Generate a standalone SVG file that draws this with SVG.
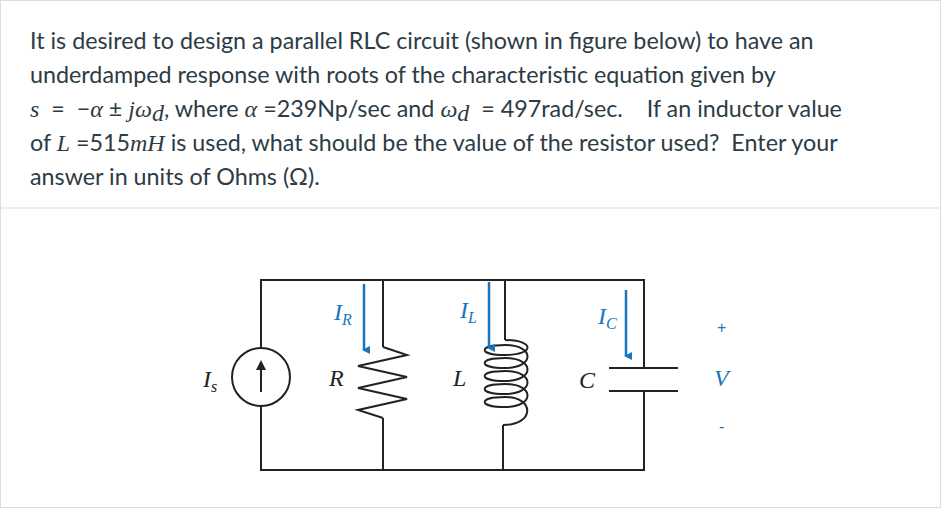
<svg xmlns="http://www.w3.org/2000/svg" width="941" height="508" viewBox="0 0 941 508">
<style>
.t{font-family:Lato,"Liberation Sans",sans-serif;font-size:23.3px;fill:#2d3b45}
.m{font-family:"Liberation Serif",serif;font-style:italic;font-size:24px;fill:#2d3b45}
.w{fill:none;stroke:#222;stroke-width:2}
.b{stroke:#1a75bc;stroke-width:2.5}
.bl{fill:#1a75bc}
.c{font-family:"Liberation Serif",serif;font-style:italic;font-size:24px}
</style>
<defs><marker id="a" markerWidth="8" markerHeight="8" refX="4" refY="6" orient="auto" markerUnits="userSpaceOnUse"><path d="M0,0 L8,0 L4,8z" fill="#1a75bc"/></marker></defs>
<rect x="0.5" y="0.5" width="940" height="507" fill="#fff" stroke="#ddd"/>
<line x1="0" y1="208" x2="941" y2="208" stroke="#ddd"/>
<text class="t" x="30" y="49">It is desired to design a parallel RLC circuit (shown in figure below) to have an</text>
<text class="t" x="30" y="83">underdamped response with roots of the characteristic equation given by</text>
<text class="t" x="30" y="117"><tspan class="m">s</tspan>&#160;&#160;=&#160;&#160;−<tspan class="m">α</tspan>&#160;±&#160;<tspan class="m">jω</tspan><tspan class="m" font-size="16" dy="4">d</tspan><tspan dy="-4">, where </tspan><tspan class="m">α</tspan> =239Np/sec and <tspan class="m">ω</tspan><tspan class="m" font-size="16" dy="4">d</tspan><tspan dy="-4">&#160;&#160;=&#160;497rad/sec.&#160;&#160;&#160;&#160;If an inductor value</tspan></text>
<text class="t" x="30" y="151">of <tspan class="m">L</tspan> =515<tspan class="m">mH</tspan> is used, what should be the value of the resistor used?&#160;&#160;Enter your</text>
<text class="t" x="30" y="185">answer in units of Ohms (Ω).</text>
<g id="wires" class="w">
<polyline points="261,348 261,280 644,280 644,368"/>
<polyline points="261,406 261,470 644,470 644,391"/>
<line x1="383" y1="280" x2="383" y2="347"/>
<line x1="383" y1="418" x2="383" y2="470"/>
<line x1="505" y1="280" x2="505" y2="340"/>
<line x1="503" y1="425" x2="503" y2="470"/>
</g>
<g id="source">
<circle cx="261" cy="377" r="29" class="w"/>
<line x1="261" y1="392" x2="261" y2="366" stroke="#222" stroke-width="2"/>
<path d="M256,370 L261,360 L266,370z" fill="#222"/>
<text class="c" x="203" y="387" fill="#222">I<tspan font-size="16" dy="5">s</tspan></text>
</g>
<g id="resistor">
<polyline class="w" points="383,347 407,355 358,366 407,377 358,388 407,399 358,410 383,418"/>
<text class="c" x="329" y="386" fill="#222">R</text>
</g>
<g id="inductor">
<path class="w" d="M505,340 C535,340 535,355 505,355 C478,355 478,345 505,345 C535,345 535,368 505,368 C478,368 478,358 505,358 C535,358 535,381 505,381 C478,381 478,371 505,371 C535,371 535,394 505,394 C478,394 478,384 505,384 C535,384 535,407 505,407 C478,407 478,397 505,397 C535,397 535,425 503,425"/>
<text class="c" x="453" y="386" fill="#222">L</text>
</g>
<g id="capacitor">
<line x1="609" y1="368" x2="678" y2="368" stroke="#222" stroke-width="2"/>
<line x1="609" y1="391" x2="678" y2="391" stroke="#222" stroke-width="2"/>
<text class="c" x="579" y="388" fill="#222">C</text>
</g>
<g id="currents">
<line class="b" x1="364" y1="284" x2="364" y2="350" marker-end="url(#a)"/>
<line class="b" x1="489" y1="282" x2="489" y2="348" marker-end="url(#a)"/>
<line class="b" x1="626" y1="290" x2="626" y2="356" marker-end="url(#a)"/>
<text class="c bl" x="334" y="320">I<tspan font-size="16" dy="5">R</tspan></text>
<text class="c bl" x="460" y="318">I<tspan font-size="16" dy="5">L</tspan></text>
<text class="c bl" x="598" y="324">I<tspan font-size="16" dy="5">C</tspan></text>
</g>
<g id="voltage" class="bl">
<text x="717" y="333" font-family="Liberation Sans,sans-serif" font-size="16">+</text>
<text class="c" x="714" y="386" font-size="20">V</text>
<text x="719" y="432" font-family="Liberation Sans,sans-serif" font-size="16">-</text>
</g>
</svg>
